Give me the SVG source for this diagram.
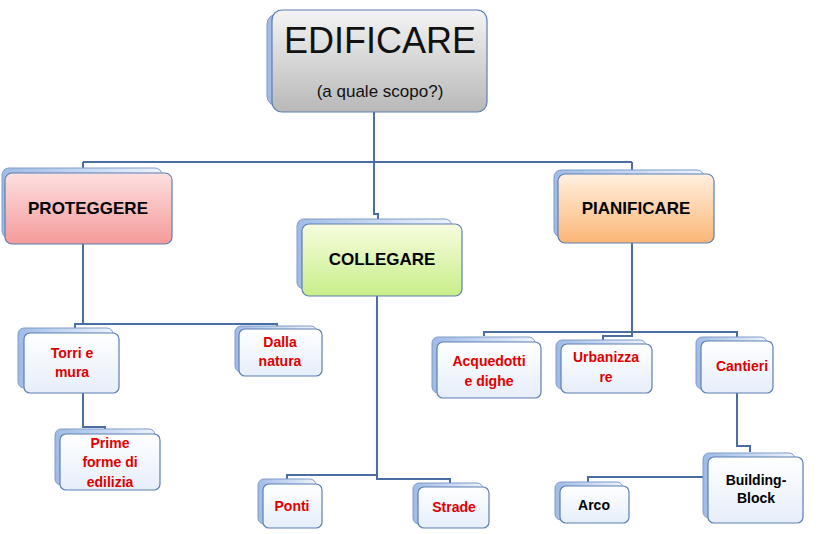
<svg xmlns="http://www.w3.org/2000/svg" width="818" height="534" viewBox="0 0 818 534">
<defs>
<linearGradient id="gw" x1="0" y1="0" x2="0" y2="1"><stop offset="0" stop-color="#ffffff"/><stop offset="1" stop-color="#e6eefa"/></linearGradient>
<linearGradient id="gb" x1="0" y1="0" x2="1" y2="0"><stop offset="0" stop-color="#9fbbe6"/><stop offset="1" stop-color="#eef3fb"/></linearGradient>
<linearGradient id="gg" x1="0" y1="0" x2="0" y2="1"><stop offset="0" stop-color="#f4f4f4"/><stop offset="1" stop-color="#b8b8b8"/></linearGradient>
<linearGradient id="gr" x1="0" y1="0" x2="0" y2="1"><stop offset="0" stop-color="#fde0e0"/><stop offset="1" stop-color="#f59a9a"/></linearGradient>
<linearGradient id="ggr" x1="0" y1="0" x2="0" y2="1"><stop offset="0" stop-color="#f6fde0"/><stop offset="1" stop-color="#c8ee88"/></linearGradient>
<linearGradient id="go" x1="0" y1="0" x2="0" y2="1"><stop offset="0" stop-color="#fff0e0"/><stop offset="1" stop-color="#fbb676"/></linearGradient>
</defs>
<style>
.back{fill:url(#gb);stroke:#7f9cc8;stroke-width:1}
.front{stroke:#5c7fb4;stroke-width:1.2}
.w{fill:url(#gw)}
.t{font-family:"Liberation Sans",Arial,sans-serif;font-weight:bold;text-anchor:middle}
.red{fill:#e00000;font-size:14px}
.blk{fill:#000;font-size:14px}
.big{fill:#000;font-size:17px}
.c{fill:none;stroke:#4a6ea3;stroke-width:2}
</style>
<g id="connectors">
<path class="c" d="M374 112V162M83 162H632M83 162V170M632 162V170M374 162V214H378V222"/>
<path class="c" d="M83 244V324H277V328M83 324H75V330M83 393V427H105V433"/>
<path class="c" d="M377 296V475H287V481M377 475V479H450V484"/>
<path class="c" d="M632 243V332H484V336M632 332H737V339M632 332V336H603V341"/>
<path class="c" d="M737 393V446H750V452M706 477H588V484"/>
</g>
<g id="edificare"><rect class="back" x="267" y="14" width="210" height="92" rx="10"/><rect class="front" fill="url(#gg)" x="272" y="10" width="215" height="102" rx="10" stroke="#333"/>
<text x="380" y="53" font-family="Liberation Sans,Arial,sans-serif" font-size="36" text-anchor="middle" fill="#111">EDIFICARE</text>
<text x="380" y="97" font-family="Liberation Sans,Arial,sans-serif" font-size="17" text-anchor="middle" fill="#111">(a quale scopo?)</text></g>
<g id="proteggere"><rect class="back" x="2" y="168" width="160" height="70" rx="7"/><rect class="front" fill="url(#gr)" stroke="#c0504d" x="5" y="173" width="167" height="71" rx="7"/><text class="t big" x="88" y="214">PROTEGGERE</text></g>
<g id="collegare"><rect class="back" x="297" y="219" width="155" height="70" rx="7"/><rect class="front" fill="url(#ggr)" stroke="#9bbb59" x="302" y="224" width="160" height="72" rx="7"/><text class="t big" x="382" y="265">COLLEGARE</text></g>
<g id="pianificare"><rect class="back" x="554" y="170" width="150" height="67" rx="7"/><rect class="front" fill="url(#go)" stroke="#f79646" x="558" y="174" width="156" height="69" rx="7"/><text class="t big" x="636" y="214">PIANIFICARE</text></g>
<g id="torri"><rect class="back" x="18" y="328" width="95" height="60" rx="6"/><rect class="front w" x="24" y="333" width="95" height="60" rx="6"/><text class="t red" x="72" y="358">Torri e</text><text class="t red" x="72" y="377">mura</text></g>
<g id="prime"><rect class="back" x="55" y="429" width="100" height="56" rx="6"/><rect class="front w" x="60" y="434" width="100" height="56" rx="6"/><text class="t red" x="110" y="448">Prime</text><text class="t red" x="110" y="467">forme di</text><text class="t red" x="110" y="487">edilizia</text></g>
<g id="dalla"><rect class="back" x="235" y="326" width="82" height="46" rx="6"/><rect class="front w" x="239" y="329" width="83" height="47" rx="6"/><text class="t red" x="280" y="347">Dalla</text><text class="t red" x="280" y="366">natura</text></g>
<g id="ponti"><rect class="back" x="258" y="479" width="58" height="45" rx="6"/><rect class="front w" x="263" y="484" width="59" height="44" rx="6"/><text class="t red" x="292" y="511">Ponti</text></g>
<g id="strade"><rect class="back" x="413" y="483" width="70" height="41" rx="6"/><rect class="front w" x="418" y="487" width="71" height="41" rx="6"/><text class="t red" x="454" y="512">Strade</text></g>
<g id="acquedotti"><rect class="back" x="432" y="337" width="103" height="56" rx="6"/><rect class="front w" x="437" y="342" width="104" height="56" rx="6"/><text class="t red" x="489" y="366">Acquedotti</text><text class="t red" x="489" y="386">e dighe</text></g>
<g id="urbanizzare"><rect class="back" x="556" y="340" width="90" height="49" rx="6"/><rect class="front w" x="561" y="344" width="91" height="49" rx="6"/><text class="t red" x="606" y="362">Urbanizza</text><text class="t red" x="606" y="382">re</text></g>
<g id="cantieri"><rect class="back" x="696" y="337" width="71" height="52" rx="6"/><rect class="front w" x="701" y="341" width="72" height="52" rx="6"/><text class="t red" x="742" y="371">Cantieri</text></g>
<g id="building"><rect class="back" x="703" y="453" width="92" height="65" rx="6"/><rect class="front w" x="708" y="457" width="95" height="66" rx="6"/><text class="t blk" x="756" y="485">Building-</text><text class="t blk" x="756" y="503">Block</text></g>
<g id="arco"><rect class="back" x="555" y="482" width="68" height="38" rx="6"/><rect class="front w" x="560" y="486" width="69" height="37" rx="6"/><text class="t blk" x="594" y="510">Arco</text></g>
</svg>
